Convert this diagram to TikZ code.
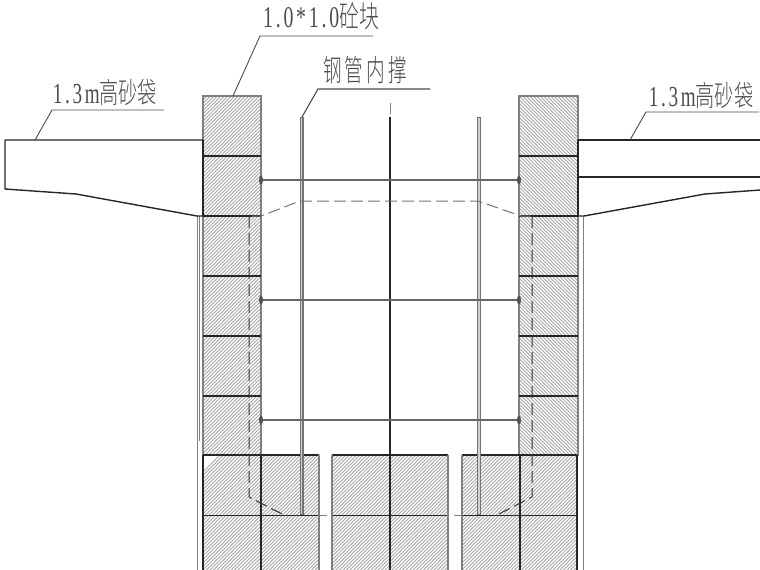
\documentclass[tikz,border=0pt]{standalone}
\usepackage{fontspec}
\newfontfamily\cjk{Noto Sans CJK SC Light}
\newfontfamily\latn[LetterSpace=14]{Liberation Serif}
\usetikzlibrary{calc}
\definecolor{ink}{gray}{0.15}
\definecolor{txt}{gray}{0.3}
\definecolor{hat}{gray}{0.66}
\newcommand{\lbl}[3]{\scalebox{#2}[1]{\fontsize{#1}{#1}\selectfont #3}}
\tikzset{
  hatchline/.style={hat,line width=0.75pt},
  blockline/.style={ink,line width=1.1pt},
  bagline/.style={ink,line width=1.4pt},
  leader/.style={txt,line width=0.9pt},
  pipeouter/.style={black!55,line width=3.6pt},
  pipeinner/.style={black!18,line width=1.2pt},
  brace/.style={ink!70!white,line width=2pt},
  dashline/.style={black!80,line width=1pt,dash pattern=on 12pt off 5pt},
  lab/.style={txt,inner sep=0pt,anchor=center}
}
\begin{document}
\begin{tikzpicture}[x=1pt,y=-1pt]
\useasboundingbox (0,0) rectangle (760,570);
% hatch
\begin{scope}
  \clip (203,96) rectangle (261,455);
  \foreach \k in {-400,-396.5,...,700} {\draw[hatchline] (\k,500) -- ++(420,-420);}
\end{scope}
\begin{scope}
  \clip (519,96) rectangle (578,455);
  \foreach \k in {100,103.5,...,1000} {\draw[hatchline] (\k,90) -- ++(420,420);}
\end{scope}
\foreach \a/\b in {203/319,332/448,462/577}{
  \begin{scope}
    \clip (\a,455) rectangle (\b,570);
    \foreach \k in {100,103.5,...,700} {\draw[hatchline] (\k,575) -- ++(125,-125);}
  \end{scope}
}
% column outlines
\draw[gray,line width=1.1pt] (203,96) rectangle (261,455);
\draw[gray,line width=1.1pt] (519,96) rectangle (578,455);
\foreach \y in {156,216,276,336,396}{
  \draw[blockline] (203,\y) -- (261,\y);
  \draw[blockline] (519,\y) -- (578,\y);
}
% base blocks
\foreach \a/\b/\c in {203/319/261,332/448/390,462/577/520}{
  \draw[blockline] (\a,455) -- (\b,455);
  \draw[blockline] (\a,515.5) -- (\b,515.5);
  \draw[blockline] (\c,455) -- (\c,570);
  \draw[gray,line width=1.1pt] (\a,455) -- (\a,570);
  \draw[gray,line width=1.1pt] (\b,455) -- (\b,570);
}
\draw[blockline] (577,455) -- (577,570);
\draw[blockline] (203,455) -- (203,570);
% outer walls
\draw[gray,line width=1pt] (197,216) -- (197,570);
\draw[gray,line width=1pt] (199,216) -- (199,441);
\draw[gray,line width=1pt] (583,216) -- (583,570);
% sandbags
\draw[bagline,line join=round] (203,140) -- (5,140) -- (5,189) -- (76,194) -- (197,216) -- (203,216);
\draw[bagline] (203,140) -- (203,216);
\draw[bagline] (578,140) -- (578,216);
\draw[ink,line width=1.1pt] (578,140) -- (760,140);
\draw[bagline] (578,177) -- (760,177);
\draw[bagline] (578,216) -- (584,216) -- (705,194) -- (760,190);
% pipes
\draw[pipeouter] (301.8,117) -- (301.8,515);
\draw[pipeinner] (301.8,118) -- (301.8,514);
\draw[pipeouter] (479,117) -- (479,515);
\draw[pipeinner] (479,118) -- (479,514);
\draw[ink,line width=2.6pt] (390,117) -- (390,455);
\draw[gray,line width=0.8pt] (390,103) -- (390,114);
% braces
\foreach \y in {180,300,420}{
  \draw[brace] (262,\y) -- (519,\y);
  \fill[ink!80!white] (261,\y) ellipse (2pt and 4.5pt);
  \fill[ink!80!white] (519,\y) ellipse (2pt and 4.5pt);
}
% dashed profile
\draw[dashline] (249,216) -- (249,497) -- (284,515);
\draw[dashline] (532,216) -- (532,497) -- (497,515);
\draw[gray!90!black,line width=1pt,dash pattern=on 12pt off 5pt] (252,216) -- (261,216) -- (300,201) -- (478,201) -- (521,216) -- (532,216);
\draw[gray,line width=1.1pt] (319,515.5) -- (327,515.5);
\draw[gray,line width=1.1pt] (454,515.5) -- (462,515.5);
% leaders and labels
\coordinate (a0) at (233,96); \coordinate (a1) at (260,36); \coordinate (a2) at (373,36);
\draw[leader] (a0) -- (a1) -- (a2);
\node[lab] (t1) at (321,16) {\lbl{30}{0.66}{\latn 1.0*1.0\cjk 砼块}};
\coordinate (b0) at (302,117); \coordinate (b1) at (318,89); \coordinate (b2) at (430,89);
\draw[leader,line width=1.1pt] (b0) -- (b1) -- (b2);
\node[lab] (t2) at (365,70) {\lbl{30}{0.62}{\cjk 钢\,管\,内\,撑}};
\coordinate (c0) at (35,140); \coordinate (c1) at (52,110); \coordinate (c2) at (164,110);
\draw[leader] (c0) -- (c1) -- (c2);
\node[lab] (t3) at (105,92) {\lbl{29}{0.66}{\latn 1.3m\cjk 高砂袋}};
\coordinate (d0) at (630,140); \coordinate (d1) at (646,112); \coordinate (d2) at (759,112);
\draw[leader] (d0) -- (d1) -- (d2);
\node[lab] (t4) at (701,95) {\lbl{29}{0.66}{\latn 1.3m\cjk 高砂袋}};
\end{tikzpicture}
\end{document}
